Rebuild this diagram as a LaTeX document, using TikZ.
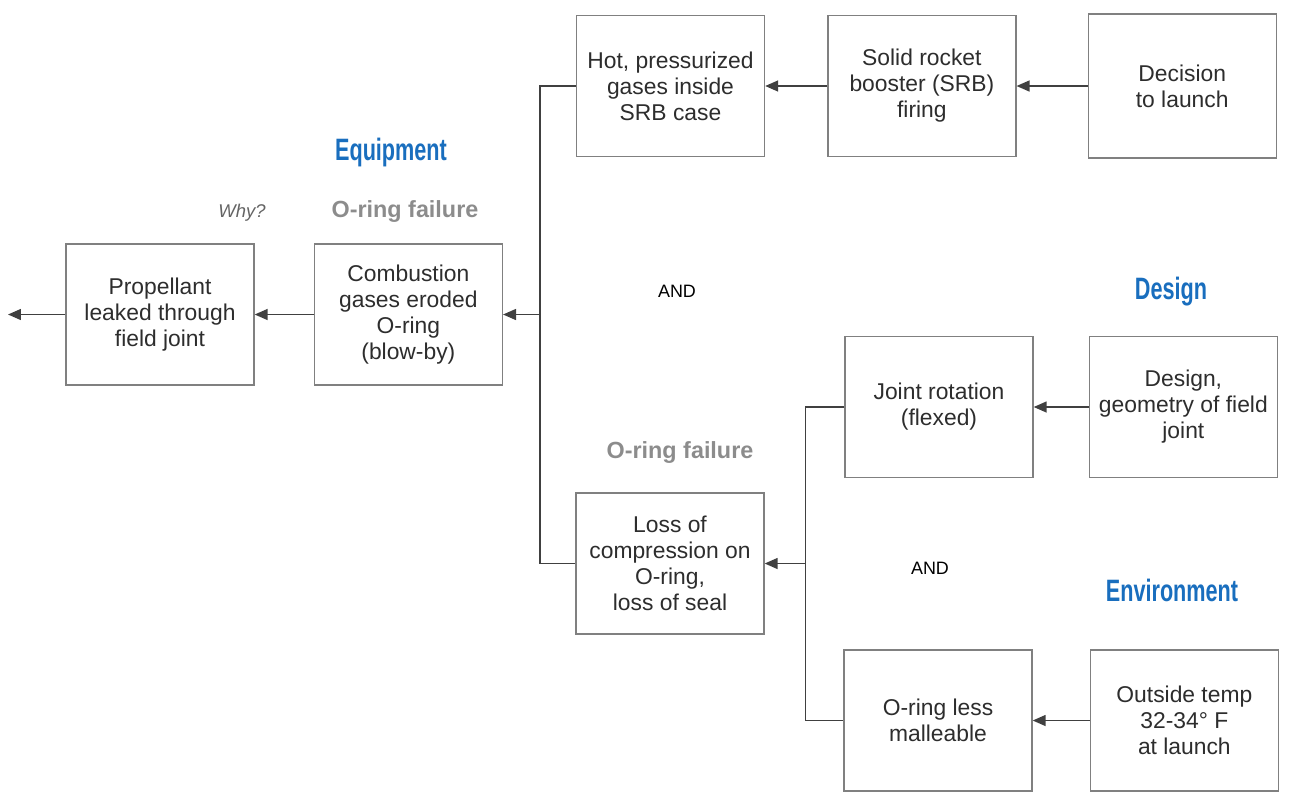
\documentclass[tikz,border=0pt]{standalone}
\usepackage{fontspec}
\setmainfont{Liberation Sans}
\newfontfamily\headfont[FakeStretch=0.70]{Liberation Sans}
\usepackage{xcolor}
\usepackage{tikz}
\usetikzlibrary{arrows.meta, positioning}
\definecolor{boxgray}{RGB}{128,128,128}
\definecolor{textdark}{RGB}{45,45,45}
\definecolor{linedark}{RGB}{64,64,64}
\definecolor{catblue}{RGB}{25,110,190}
\definecolor{failgray}{RGB}{140,140,140}
\definecolor{whygray}{RGB}{100,100,100}
\tikzset{
  cause/.style={rectangle, draw=boxgray, fill=white, line width=0.8pt,
    minimum width=3.76cm, minimum height=2.82cm, align=center,
    text=textdark, font=\fontsize{13}{14.8}\selectfont},
  category/.style={text=catblue, font=\headfont\bfseries\fontsize{17.6}{20}\selectfont},
  failure/.style={text=failgray, font=\bfseries\fontsize{13.3}{15}\selectfont},
  andlabel/.style={text=black, font=\fontsize{10.2}{12}\selectfont},
  whylabel/.style={text=whygray, font=\itshape\fontsize{10.5}{12}\selectfont},
  arrow/.style={-{Triangle[length=0.26cm, width=0.22cm]}, line width=0.85pt, color=linedark},
  line/.style={line width=0.85pt, color=linedark}
}

\begin{document}
\begin{tikzpicture}[x=0.02cm, y=-0.02cm]
  \useasboundingbox (0,0) rectangle (1292,799);

  % Nodes
  \node[cause] (prop) at (160,314.5) {Propellant\\leaked through\\field joint};
  \node[cause, right=1.18cm of prop] (comb) {Combustion\\gases eroded\\O-ring\\(blow-by)};
  \node[cause] (hot) at (670.5,86) {Hot, pressurized\\gases inside\\SRB case};
  \node[cause, right=1.24cm of hot] (srb) {Solid rocket\\booster (SRB)\\firing};
  \node[cause, right=1.42cm of srb, minimum height=2.88cm] (decision) {Decision\\to launch};
  \node[cause] (loss) at (670,563.5) {Loss of\\compression on\\O-ring,\\loss of seal};
  \node[cause] (joint) at (939,407) {Joint rotation\\(flexed)};
  \node[cause, right=1.1cm of joint] (design) {Design,\\geometry of field\\joint};
  \node[cause] (malleable) at (938,720.5) {O-ring less\\malleable};
  \node[cause, right=1.14cm of malleable] (outside) {Outside temp\\32-34\textdegree{} F\\at launch};

  % Labels
  \node[category] (equip) at (391,152) {Equipment};
  \node[category] (designcat) at (1171,292) {Design};
  \node[category] (envcat) at (1172,590) {Environment};
  \node[failure] (fail1) at (405,212) {O-ring failure};
  \node[failure] (fail2) at (680,452) {O-ring failure};
  \node[whylabel] (why) at (242,213) {Why?};
  \node[andlabel] (and1) at (677,291) {AND};
  \node[andlabel] (and2) at (930,568) {AND};

  % Junctions
  \coordinate (out) at (8,314.5);
  \coordinate[right=0.74cm of comb] (j1);
  \coordinate[right=0.82cm of loss] (j2);

  % Arrows
  \draw[arrow] (prop.west) -- (out);
  \draw[arrow] (comb) -- (prop);
  \draw[arrow] (srb) -- (hot);
  \draw[arrow] (decision) -- (srb);
  \draw[arrow] (design) -- (joint);
  \draw[arrow] (outside) -- (malleable);
  \draw[line] (hot.west) -- (hot.west -| j1) -- (loss.west -| j1) -- (loss.west);
  \draw[arrow] (j1) -- (comb.east);
  \draw[line] (joint.west) -- (joint.west -| j2) -- (malleable.west -| j2) -- (malleable.west);
  \draw[arrow] (j2) -- (loss.east);
\end{tikzpicture}
\end{document}
